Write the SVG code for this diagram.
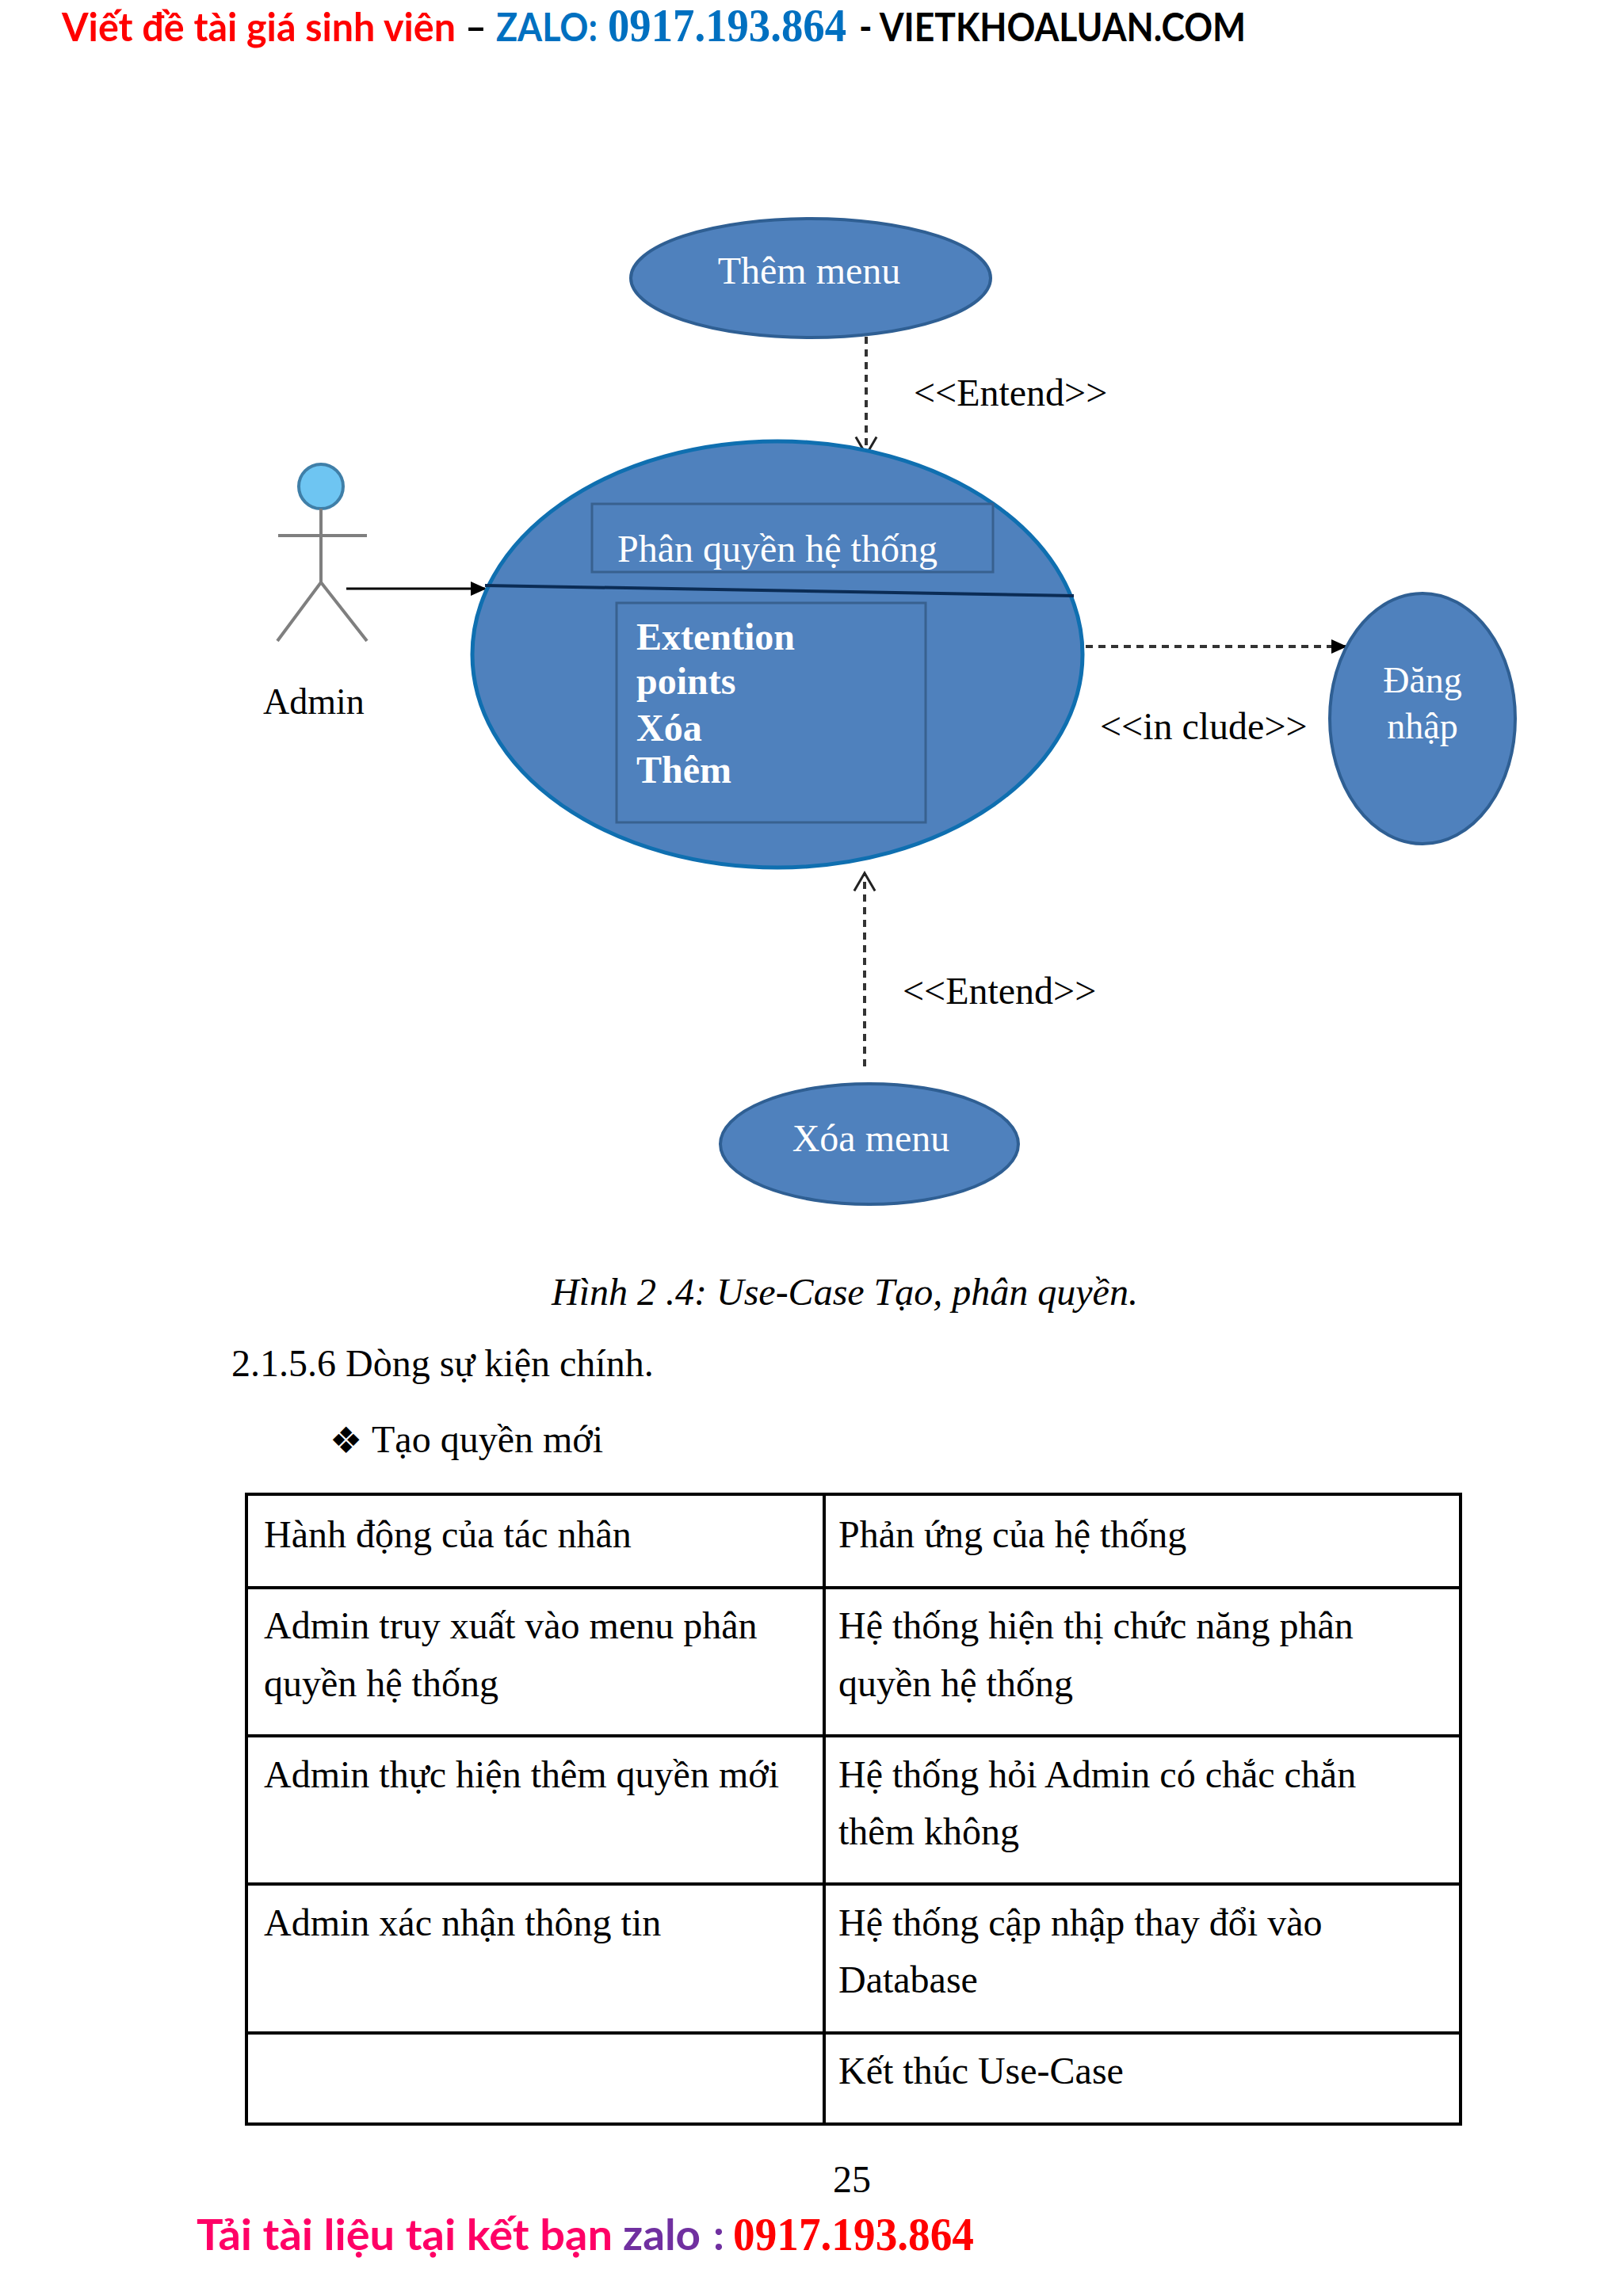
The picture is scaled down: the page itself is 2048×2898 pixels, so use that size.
<svg xmlns="http://www.w3.org/2000/svg" width="2048" height="2898" viewBox="0 0 2048 2898">
<style>
text{font-family:"Liberation Serif","Noto Sans",serif;font-size:48px;fill:#000}
.w{fill:#fff}
.b{font-weight:700}
.sans{font-family:"Lato","Open Sans","Liberation Sans",sans-serif;font-weight:700;font-size:50px}
.num{font-family:"Liberation Serif",serif;font-weight:700;font-size:60px}
.uc{fill:#4f81bd;stroke:#2f5f93;stroke-width:4}
.main{fill:#4f81bd;stroke:#0f6fb0;stroke-width:5}
.box{fill:none;stroke:#38618f;stroke-width:3}
.tb{stroke:#000;stroke-width:4;fill:none}
.dash{stroke:#333;stroke-width:4;stroke-dasharray:9 7;fill:none}
.act{stroke:#7f7f7f;stroke-width:4;fill:none}
</style>
<defs>
<marker id="open" markerWidth="30" markerHeight="30" refX="13" refY="8" orient="auto" markerUnits="userSpaceOnUse" viewBox="0 0 14 16"><path d="M1 1L13 8L1 15" fill="none" stroke="#222" stroke-width="1.6"/></marker>
<marker id="solidbig" markerWidth="20" markerHeight="20" refX="18" refY="10" orient="auto" markerUnits="userSpaceOnUse" viewBox="0 0 20 20"><path d="M0 1L20 10L0 19Z" fill="#000"/></marker>
</defs>
<g id="banner">
<text class="sans" x="78" y="52" style="fill:#f00" textLength="497" lengthAdjust="spacingAndGlyphs">Viết đề tài giá sinh viên</text>
<text class="sans" x="587" y="52" textLength="27" lengthAdjust="spacingAndGlyphs">–</text>
<text class="sans" x="626" y="52" style="fill:#0070c0" textLength="128" lengthAdjust="spacingAndGlyphs">ZALO:</text>
<text class="num" x="767" y="52" style="fill:#0070c0" textLength="301" lengthAdjust="spacingAndGlyphs">0917.193.864</text>
<text class="sans" x="1084" y="52" textLength="488" lengthAdjust="spacingAndGlyphs">- VIETKHOALUAN.COM</text>
</g>
<g id="connectors">
<line class="dash" x1="1093" y1="425" x2="1093" y2="574" marker-end="url(#open)"/>
<line class="dash" x1="1091" y1="1346" x2="1091" y2="1102" marker-end="url(#open)"/>
<line class="dash" x1="1370" y1="816" x2="1698" y2="816" marker-end="url(#solidbig)"/>
<line x1="437" y1="743" x2="612" y2="743" stroke="#000" stroke-width="3" marker-end="url(#solidbig)"/>
</g>
<g id="usecase-main">
<ellipse class="main" cx="981" cy="826" rx="385" ry="269"/>
<rect class="box" x="747" y="636" width="506" height="86"/>
<text class="w" x="779" y="709">Phân quyền hệ thống</text>
<line x1="612" y1="739" x2="1355" y2="752" stroke="#0b2c55" stroke-width="4"/>
<rect class="box" x="778" y="761" width="390" height="277"/>
<text class="w b" x="803" y="820">Extention</text>
<text class="w b" x="803" y="876">points</text>
<text class="w b" x="803" y="935">Xóa</text>
<text class="w b" x="803" y="988">Thêm</text>
</g>
<g id="usecase-them"><ellipse class="uc" cx="1023" cy="351" rx="227" ry="75"/><text class="w" x="1021" y="358" text-anchor="middle">Thêm menu</text></g>
<g id="usecase-dangnhap"><ellipse class="uc" cx="1795" cy="907" rx="117" ry="158"/><text class="w" x="1795" y="874" text-anchor="middle" style="font-size:46px">Đăng</text><text class="w" x="1795" y="932" text-anchor="middle" style="font-size:46px">nhập</text></g>
<g id="usecase-xoa"><ellipse class="uc" cx="1097" cy="1444" rx="188" ry="76"/><text class="w" x="1099" y="1453" text-anchor="middle">Xóa menu</text></g>
<g id="actor">
<ellipse cx="405" cy="614" rx="28" ry="28" fill="#6ec5f2" stroke="#3f7fa8" stroke-width="4"/>
<path class="act" d="M405 642V735M351 676H463M350 809L405 735L463 809"/>
<text x="332" y="901" style="font-size:46px">Admin</text>
</g>
<g id="edge-labels">
<text x="1153" y="512">&lt;&lt;Entend&gt;&gt;</text>
<text x="1388" y="933">&lt;&lt;in clude&gt;&gt;</text>
<text x="1139" y="1267">&lt;&lt;Entend&gt;&gt;</text>
</g>
<g id="caption">
<text x="696" y="1647" font-style="italic">Hình 2 .4: Use-Case Tạo, phân quyền.</text>
<text x="292" y="1737">2.1.5.6 Dòng sự kiện chính.</text>
<text x="416" y="1834" style="font-family:'DejaVu Sans',sans-serif;font-size:46px">❖</text>
<text x="469" y="1833">Tạo quyền mới</text>
</g>
<g id="table">
<rect class="tb" x="311" y="1886" width="1532" height="795"/>
<path class="tb" d="M1040 1886V2681M311 2004H1843M311 2191H1843M311 2378H1843M311 2566H1843"/>
<text x="333" y="1953">Hành động của tác nhân</text><text x="1058" y="1953">Phản ứng của hệ thống</text>
<text x="333" y="2068">Admin truy xuất vào menu phân</text><text x="333" y="2141">quyền hệ thống</text>
<text x="1058" y="2068">Hệ thống hiện thị chức năng phân</text><text x="1058" y="2141">quyền hệ thống</text>
<text x="333" y="2256">Admin thực hiện thêm quyền mới</text>
<text x="1058" y="2256">Hệ thống hỏi Admin có chắc chắn</text><text x="1058" y="2328">thêm không</text>
<text x="333" y="2443">Admin xác nhận thông tin</text>
<text x="1058" y="2443">Hệ thống cập nhập thay đổi vào</text><text x="1058" y="2515">Database</text>
<text x="1058" y="2630">Kết thúc Use-Case</text>
</g>
<text x="1051" y="2767" id="page">25</text>
<g id="footer">
<text class="sans" x="248" y="2840" style="fill:#ff0066;font-size:54px" textLength="525" lengthAdjust="spacingAndGlyphs">Tải tài liệu tại kết bạn</text>
<text class="sans" x="786" y="2840" style="fill:#7030a0;font-size:54px" textLength="98" lengthAdjust="spacingAndGlyphs">zalo</text>
<text class="sans" x="900" y="2840" style="fill:#7030a0;font-size:54px">:</text>
<text class="num" x="925" y="2840" style="fill:#f00" textLength="304" lengthAdjust="spacingAndGlyphs">0917.193.864</text>
</g>
</svg>
